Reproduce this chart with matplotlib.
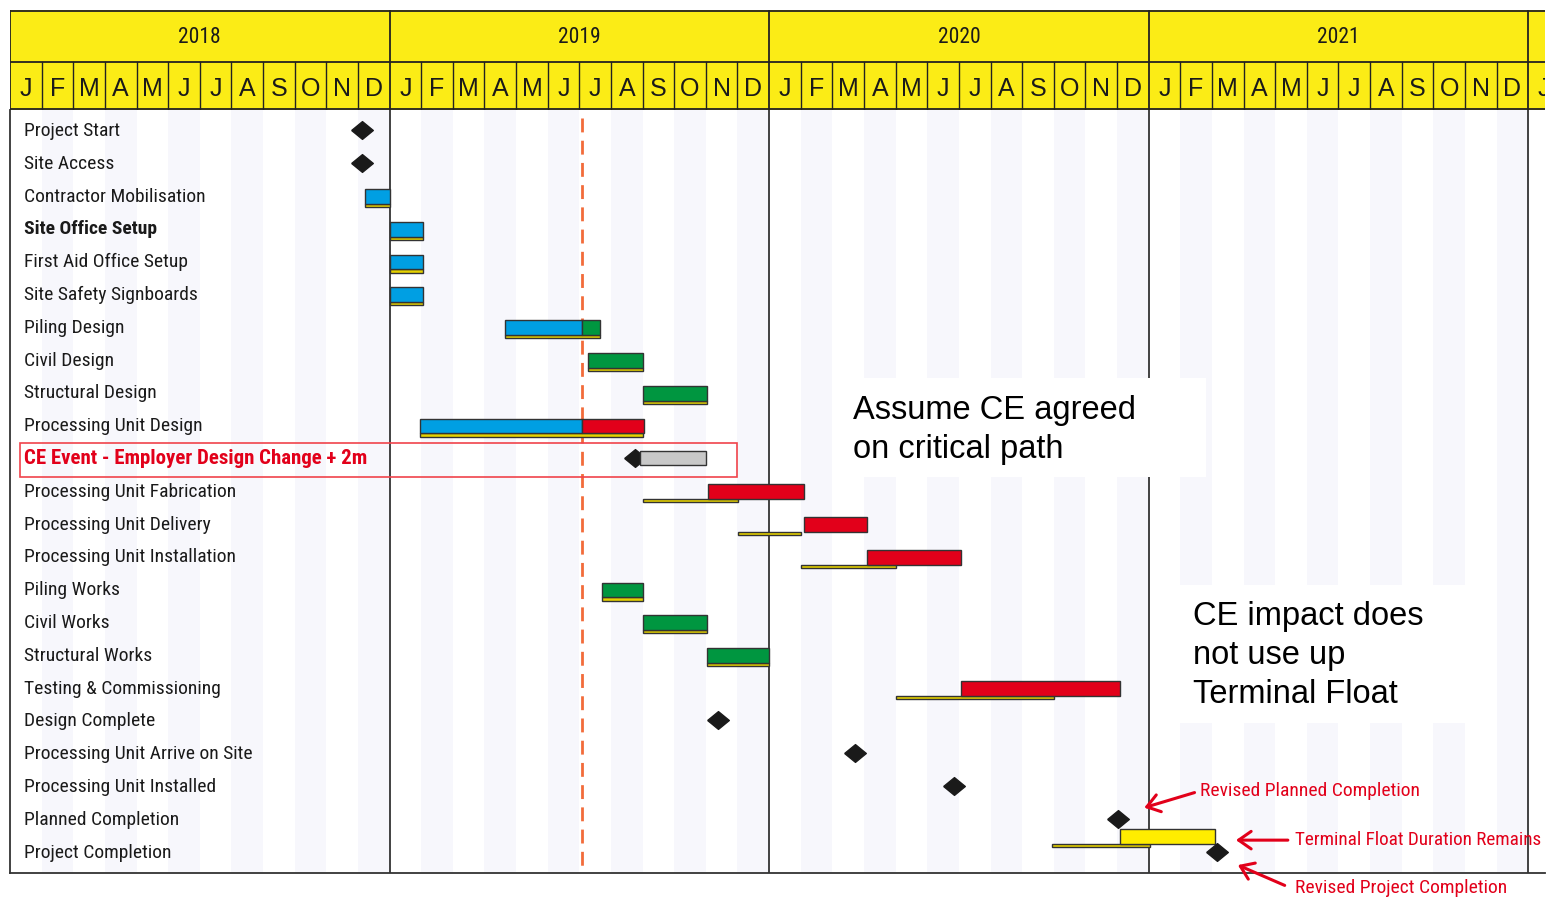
import numpy as np
import matplotlib.pyplot as plt
from matplotlib.patches import Rectangle

NARROW = ['Roboto Condensed', 'Noto Sans Condensed', 'Liberation Sans Narrow',
          'Arial Narrow', 'Liberation Sans', 'DejaVu Sans']
plt.rcParams['font.family'] = NARROW
plt.rcParams['font.stretch'] = 'condensed'

# ---- data ----
years = [2018, 2019, 2020, 2021]
month_letters = list("JFMAMJJASOND")

tasks = [
    "Project Start", "Site Access", "Contractor Mobilisation", "Site Office Setup",
    "First Aid Office Setup", "Site Safety Signboards", "Piling Design", "Civil Design",
    "Structural Design", "Processing Unit Design", "CE Event - Employer Design Change + 2m",
    "Processing Unit Fabrication", "Processing Unit Delivery", "Processing Unit Installation",
    "Piling Works", "Civil Works", "Structural Works", "Testing & Commissioning",
    "Design Complete", "Processing Unit Arrive on Site", "Processing Unit Installed",
    "Planned Completion", "Project Completion",
]

# months counted from Jan 2018
seg_row = [2, 3, 4, 5, 6, 6, 7, 8, 9, 9, 10, 11, 12, 13, 14, 15, 16, 17, 22]
seg_start = [11.23, 12.0, 12.0, 12.0, 15.66, 18.07, 18.26, 20.0, 12.97, 18.07,
             19.92, 22.06, 25.1, 27.09, 18.73, 20.0, 22.03, 30.06, 35.1]
seg_end = [12.0, 13.07, 13.07, 13.07, 18.07, 18.64, 20.0, 22.03, 18.07, 20.03,
           22.0, 25.1, 27.09, 30.08, 20.0, 22.04, 24.0, 35.1, 38.1]
seg_kind = ["prelim", "prelim", "prelim", "prelim", "prelim", "design", "design", "design",
            "prelim", "critical", "ce", "critical", "critical", "critical",
            "design", "design", "design", "critical", "float"]

base_row = [2, 3, 4, 5, 6, 7, 8, 9, 11, 12, 13, 14, 15, 16, 17, 22]
base_start = [11.23, 12.0, 12.0, 12.0, 15.66, 18.26, 20.0, 12.97, 20.0, 23.02, 25.0,
              18.73, 20.0, 22.03, 28.0, 32.93]
base_end = [12.0, 13.07, 13.07, 13.07, 18.64, 20.0, 22.03, 20.0, 23.03, 25.02, 28.0,
            20.0, 22.04, 24.0, 33.0, 36.04]

ms_row = [0, 1, 10, 18, 19, 20, 21, 22]
ms_month = [11.14, 11.14, 19.76, 22.37, 26.7, 29.84, 35.03, 38.15]

data_date = 18.07

kind_color = {"prelim": "#009FE3", "design": "#009640", "critical": "#E2001A",
              "ce": "#C8C8C8", "float": "#FFED00"}

# ---- layout ----
W, H = 1555, 909
PXM = 31.63
fig = plt.figure(figsize=(W / 100, H / 100), dpi=100)
fig.patch.set_facecolor("white")

ax = fig.add_axes([10 / W, 1 - 873 / H, 1535 / W, 763 / H])
xmax = 1535 / PXM
ax.set_xlim(0, xmax)
ax.set_ylim((873 - 131) / 32.8, (110 - 131) / 32.8)
ax.set_xticks([])
ax.set_yticks([])
for s in ["top", "right"]:
    ax.spines[s].set_visible(False)
for s in ["left", "bottom"]:
    ax.spines[s].set_color("#333333")
    ax.spines[s].set_linewidth(1.3)

# alternating month shading
for i in range(1, 49, 2):
    ax.axvspan(i, i + 1, color="#F7F7FC", zorder=0, lw=0)
for yb in [12, 24, 36, 48]:
    ax.axvline(yb, color="#333333", lw=1.3, zorder=1)

# white boxes behind the notes
ax.add_patch(Rectangle((26.0, 7.53), 11.8, 3.02, facecolor="white", edgecolor="none", zorder=1.5))
ax.add_patch(Rectangle((36.9, 13.84), 9.1, 4.2, facecolor="white", edgecolor="none", zorder=1.5))

# data date
ax.plot([data_date, data_date], [-0.4, 22.62], color="#F26B3A", lw=2, dashes=(5, 3), zorder=2)

# baselines
for r, a, b in zip(base_row, base_start, base_end):
    off = -0.215 if r == 22 else 0.27
    ax.barh(r + off, b - a, left=a, height=0.095, color="#E6D200",
            edgecolor="#333333", lw=1, zorder=3)

# main bars
for r, a, b, k in zip(seg_row, seg_start, seg_end, seg_kind):
    if r == 22:
        c, h = r - 0.49, 0.46
    elif k == "ce":
        c, h = r - 0.03, 0.45
    else:
        c, h = r - 0.005, 0.45
    ax.barh(c, b - a, left=a, height=h, color=kind_color[k],
            edgecolor="#333333", lw=1, zorder=4)

# milestones
diamond = [(-1, 0), (0, 0.82), (1, 0), (0, -0.82), (-1, 0)]
for r, m in zip(ms_row, ms_month):
    ax.plot(m, r - 0.03, marker=diamond, ms=15.6, color="#1A1A1A",
            ls="none", zorder=3.5 if r == 10 else 5)

# task labels
for i, t in enumerate(tasks):
    kw = dict(fontsize=14, color="#1A1A1A")
    if i == 3:
        kw["fontweight"] = "bold"
    if i == 10:
        kw.update(color="#E2001A", fontweight="bold", fontsize=15)
    ax.text(0.45, i, t, va="center", ha="left", zorder=6, **kw)

ax.add_patch(Rectangle((0.32, 9.51), 22.66, 1.04, facecolor="none",
                       edgecolor="#F0434B", lw=1.2, zorder=6))

# notes
ax.text(26.65, 9.12, "Assume CE agreed\non critical path", family="Liberation Sans",
        fontstretch="normal", fontsize=23.5, va="center", ha="left", color="black",
        zorder=6, linespacing=1.33)
ax.text(37.4, 15.98, "CE impact does\nnot use up\nTerminal Float", family="Liberation Sans",
        fontstretch="normal", fontsize=23.5, va="center", ha="left", color="black",
        zorder=6, linespacing=1.33)

red = "#E2001A"
arrow = dict(arrowstyle="->,head_length=0.5,head_width=0.35", color=red, lw=2.2,
             mutation_scale=18, shrinkA=0, shrinkB=0)
ax.annotate("", xy=(35.86, 20.63), xytext=(37.45, 20.17), arrowprops=arrow, zorder=7)
ax.text(37.62, 20.12, "Revised Planned Completion", color=red, fontsize=14,
        va="center", ha="left", zorder=7)
ax.annotate("", xy=(38.76, 21.62), xytext=(40.4, 21.62), arrowprops=arrow, zorder=7)
ax.text(40.63, 21.62, "Terminal Float Duration Remains", color=red, fontsize=13.8,
        va="center", ha="left", zorder=7)
ax.annotate("", xy=(38.82, 22.38), xytext=(40.3, 23.0), arrowprops=arrow,
            zorder=7, annotation_clip=False)
ax.text(40.63, 23.08, "Revised Project Completion", color=red, fontsize=14,
        va="center", ha="left", zorder=7, clip_on=False)

# ---- header ----
hx = fig.add_axes([10 / W, 1 - 110 / H, 1535 / W, 100 / H])
hx.set_xlim(0, xmax)
hx.set_ylim(100, 0)
hx.axis("off")
hx.add_patch(Rectangle((0, 0), xmax, 100, facecolor="#FBEC16", edgecolor="none", zorder=0))
line = dict(color="#222222", lw=1.3, zorder=2)
hx.plot([0, xmax], [0.6, 0.6], **line)
hx.plot([0, xmax], [52, 52], **line)
hx.plot([0, xmax], [99.4, 99.4], **line)
hx.plot([0, 0], [0, 100], **line)
for yb in [12, 24, 36, 48]:
    hx.plot([yb, yb], [0, 100], **line)
for i, y in enumerate(years):
    hx.text(12 * i + 6, 27, str(y), ha="center", va="center", fontsize=15.5, color="#1A1A1A")
for i in range(49):
    if i % 12:
        hx.plot([i, i], [52, 100], color="#222222", lw=1, zorder=2)
    hx.text(i + 0.5, 79, month_letters[i % 12], ha="center", va="center",
            family="Liberation Sans", fontstretch="normal", fontsize=18,
            color="#1A1A1A", clip_on=True)

fig.savefig("out.png", dpi=100)
